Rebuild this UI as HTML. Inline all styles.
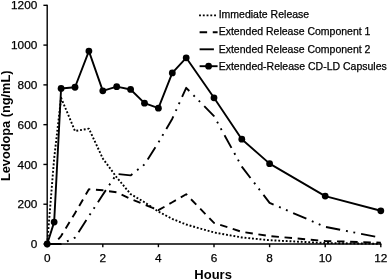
<!DOCTYPE html>
<html><head><meta charset="utf-8"><title>Levodopa</title>
<style>
html,body{margin:0;padding:0;background:#fff;}
body{width:387px;height:279px;overflow:hidden;}
svg{display:block;font-family:"Liberation Sans",Arial,sans-serif;fill:#000;}
.t{font-size:11.8px;stroke:#000;stroke-width:0.25px;}
.b{font-size:13px;font-weight:bold;}
.r{font-size:12.75px;font-weight:bold;}
.g{font-size:10.5px;stroke:#000;stroke-width:0.25px;}
.l{fill:none;stroke:#000;stroke-width:1.9;stroke-linejoin:round;}
</style></head><body>
<svg width="387" height="279" viewBox="0 0 387 279">
<rect width="387" height="279" fill="#fff"/>
<g stroke="#000" stroke-width="1.4" fill="none">
<path d="M47.20 4.72 V244.00 H381.40"/>
<path d="M43.40 244.00 H47.20"/>
<path d="M43.40 204.22 H47.20"/>
<path d="M43.40 164.44 H47.20"/>
<path d="M43.40 124.66 H47.20"/>
<path d="M43.40 84.88 H47.20"/>
<path d="M43.40 45.10 H47.20"/>
<path d="M43.40 5.32 H47.20"/>
<path d="M47.20 244.00 V247.20"/>
<path d="M102.80 244.00 V247.20"/>
<path d="M158.40 244.00 V247.20"/>
<path d="M214.00 244.00 V247.20"/>
<path d="M269.60 244.00 V247.20"/>
<path d="M325.20 244.00 V247.20"/>
<path d="M380.80 244.00 V247.20"/>
</g>
<text class="t" x="37.3" y="248.10" text-anchor="end">0</text>
<text class="t" x="37.3" y="208.32" text-anchor="end">200</text>
<text class="t" x="37.3" y="168.54" text-anchor="end">400</text>
<text class="t" x="37.3" y="128.76" text-anchor="end">600</text>
<text class="t" x="37.3" y="88.98" text-anchor="end">800</text>
<text class="t" x="37.3" y="49.20" text-anchor="end">1000</text>
<text class="t" x="37.3" y="9.42" text-anchor="end">1200</text>
<text class="t" x="47.20" y="261.5" text-anchor="middle">0</text>
<text class="t" x="102.80" y="261.5" text-anchor="middle">2</text>
<text class="t" x="158.40" y="261.5" text-anchor="middle">4</text>
<text class="t" x="214.00" y="261.5" text-anchor="middle">6</text>
<text class="t" x="269.60" y="261.5" text-anchor="middle">8</text>
<text class="t" x="325.20" y="261.5" text-anchor="middle">10</text>
<text class="t" x="380.80" y="261.5" text-anchor="middle">12</text>
<text class="b" x="213.1" y="278.7" text-anchor="middle">Hours</text>
<text class="r" transform="translate(9.8,125.8) rotate(-90)" text-anchor="middle">Levodopa (ng/mL)</text>
<polyline class="l" stroke-dasharray="1.88 1.88" points="47.20,244.00 54.15,158.47 61.10,97.81 75.00,131.02 88.90,128.64 102.80,158.47 116.70,177.37 130.60,194.08 144.50,202.23 158.40,211.58 172.30,218.94 186.20,224.51 214.00,232.46 241.80,237.44 269.60,240.22 325.20,243.01 380.80,243.80"/>
<polyline class="l" stroke-dasharray="7.52 5.64" points="47.20,244.00 54.15,244.00 61.10,236.04 75.00,213.17 88.90,189.30 102.80,190.30 116.70,192.29 130.60,198.85 144.50,204.62 158.40,210.19 172.30,202.23 186.20,194.28 214.00,222.92 241.80,231.87 269.60,236.04 325.20,241.02 380.80,242.61"/>
<polyline class="l" stroke-dasharray="14.4 5.94 1.88 5.64 1.88 5.98" points="47.20,244.00 54.15,244.00 61.10,244.00 75.00,237.64 88.90,216.15 102.80,194.67 116.70,173.99 130.60,175.38 144.50,164.44 158.40,142.56 172.30,118.69 186.20,87.86 214.00,116.11 241.80,166.63 269.60,202.83 325.20,226.89 380.80,237.64"/>
<polyline class="l" points="47.20,244.00 54.15,222.12 61.10,88.46 75.00,87.27 88.90,51.07 102.80,90.85 116.70,86.67 130.60,89.45 144.50,103.18 158.40,108.15 172.30,72.95 186.20,57.83 214.00,97.81 241.80,139.18 269.60,163.64 325.20,196.07 380.80,210.78"/>
<circle cx="47.20" cy="244.00" r="3.4"/>
<circle cx="54.15" cy="222.12" r="3.4"/>
<circle cx="61.10" cy="88.46" r="3.4"/>
<circle cx="75.00" cy="87.27" r="3.4"/>
<circle cx="88.90" cy="51.07" r="3.4"/>
<circle cx="102.80" cy="90.85" r="3.4"/>
<circle cx="116.70" cy="86.67" r="3.4"/>
<circle cx="130.60" cy="89.45" r="3.4"/>
<circle cx="144.50" cy="103.18" r="3.4"/>
<circle cx="158.40" cy="108.15" r="3.4"/>
<circle cx="172.30" cy="72.95" r="3.4"/>
<circle cx="186.20" cy="57.83" r="3.4"/>
<circle cx="214.00" cy="97.81" r="3.4"/>
<circle cx="241.80" cy="139.18" r="3.4"/>
<circle cx="269.60" cy="163.64" r="3.4"/>
<circle cx="325.20" cy="196.07" r="3.4"/>
<circle cx="380.80" cy="210.78" r="3.4"/>
<path class="l" stroke-dasharray="1.88 1.88" d="M199.06 15.40 H216.20"/>
<path class="l" stroke-dasharray="7.52 5.64" d="M199.60 32.20 H217.60"/>
<path class="l" stroke-dasharray="14.4 5.94 1.88 5.64 1.88 5.98" d="M199.60 49.30 H213.90"/>
<path class="l" d="M199.60 66.20 H217.60"/>
<circle cx="208.60" cy="66.20" r="3.4"/>
<text class="g" x="218.7" y="18.20">Immediate Release</text>
<text class="g" x="218.7" y="35.40">Extended Release Component 1</text>
<text class="g" x="218.7" y="53.00">Extended Release Component 2</text>
<text class="g" x="218.7" y="69.80">Extended-Release CD-LD Capsules</text>
</svg></body></html>
